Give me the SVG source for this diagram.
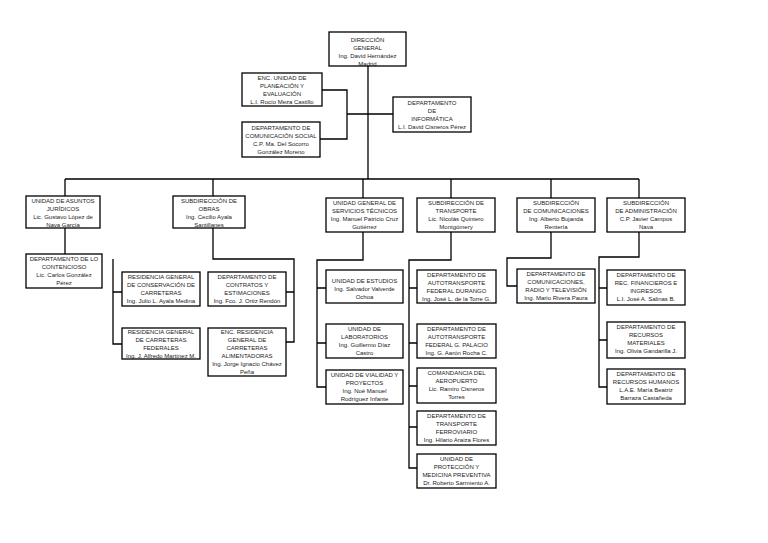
<svg xmlns="http://www.w3.org/2000/svg" width="768" height="543" viewBox="0 0 768 543">
<style>
rect{fill:#fff;stroke:#000;stroke-width:1.3}
text{font-family:"Liberation Sans",Arial,sans-serif;font-size:6px;fill:#222;text-anchor:middle}
#connectors path{fill:none;stroke:#000;stroke-width:1.3}
</style>
<rect x="0" y="0" width="768" height="543" style="stroke:none"/>
<g id="connectors">
<path d="M368 66V179M65 179H639M322 90H347V139H318M347 114H393M65 179V196M213 179V196M363 179V198M451 179V198M551 179V198M639 179V198"/>
<path d="M65 227V254M213 227V259H294V342H286M113 259V344H122M113 292H122M294 292H286"/>
<path d="M363 232V260H317V387H326M317 288H326M317 343H326"/>
<path d="M451 232V260H409V468H417M409 288H417M409 343H417M409 386H417M409 427H417"/>
<path d="M551 232V258H507V286H517"/>
<path d="M639 232V257H599V387H607M599 288H607M599 340H607"/>
</g>
<g id="dir"><rect x="329" y="32" width="77" height="34"/><text x="367.5" y="42">DIRECCIÓN</text><text x="367.5" y="50">GENERAL</text><text x="367.5" y="58">Ing. David Hernández</text><text x="367.5" y="66">Madrid</text></g>
<g id="plan"><rect x="242" y="73" width="80" height="33"/><text x="282" y="80">ENC. UNIDAD DE</text><text x="282" y="88">PLANEACIÓN Y</text><text x="282" y="96">EVALUACIÓN</text><text x="282" y="104">L.I. Rocío Meza Castillo</text></g>
<g id="com"><rect x="242" y="122" width="78" height="35"/><text x="281" y="130">DEPARTAMENTO DE</text><text x="281" y="138">COMUNICACIÓN SOCIAL</text><text x="281" y="146">C.P. Ma. Del Socorro</text><text x="281" y="154">González Moreno</text></g>
<g id="inf"><rect x="393" y="97" width="78" height="35"/><text x="432" y="105">DEPARTAMENTO</text><text x="432" y="113">DE</text><text x="432" y="121">INFORMÁTICA</text><text x="432" y="129">L.I. David Cisneros Pérez</text></g>
<g id="jur"><rect x="26" y="196" width="74" height="32"/><text x="63" y="203">UNIDAD DE ASUNTOS</text><text x="63" y="211">JURÍDICOS</text><text x="63" y="219">Lic. Gustavo López de</text><text x="63" y="227">Nava García</text></g>
<g id="cont"><rect x="26" y="254" width="76" height="34"/><text x="64" y="261">DEPARTAMENTO DE LO</text><text x="64" y="269">CONTENCIOSO</text><text x="64" y="277">Lic. Carlos González</text><text x="64" y="285">Pérez</text></g>
<g id="obras"><rect x="173" y="196" width="72" height="32"/><text x="209" y="203">SUBDIRECCIÓN DE</text><text x="209" y="211">OBRAS</text><text x="209" y="219">Ing. Cecilio Ayala</text><text x="209" y="227">Santillanes</text></g>
<g id="rcons"><rect x="122" y="272" width="78" height="34"/><text x="161" y="279">RESIDENCIA GENERAL</text><text x="161" y="287">DE CONSERVACIÓN DE</text><text x="161" y="295">CARRETERAS</text><text x="161" y="303">Ing. Julio L. Ayala Medina</text></g>
<g id="contr"><rect x="208" y="272" width="78" height="34"/><text x="247" y="279">DEPARTAMENTO DE</text><text x="247" y="287">CONTRATOS Y</text><text x="247" y="295">ESTIMACIONES</text><text x="247" y="303">Ing. Fco. J. Ortiz Rendón</text></g>
<g id="rfed"><rect x="122" y="328" width="78" height="31"/><text x="161" y="334">RESIDENCIA GENERAL</text><text x="161" y="342">DE CARRETERAS</text><text x="161" y="350">FEDERALES</text><text x="161" y="358">Ing. J. Alfredo Martínez M.</text></g>
<g id="ralim"><rect x="208" y="328" width="78" height="48"/><text x="247" y="334">ENC. RESIDENCIA</text><text x="247" y="342">GENERAL DE</text><text x="247" y="350">CARRETERAS</text><text x="247" y="358">ALIMENTADORAS</text><text x="247" y="366">Ing. Jorge Ignacio Chávez</text><text x="247" y="374">Peña</text></g>
<g id="serv"><rect x="326" y="198" width="77" height="34"/><text x="364.5" y="205">UNIDAD GENERAL DE</text><text x="364.5" y="213">SERVICIOS TÉCNICOS</text><text x="364.5" y="221">Ing. Manuel Patricio Cruz</text><text x="364.5" y="229">Gutiérrez</text></g>
<g id="est"><rect x="326" y="270" width="77" height="33"/><text x="364.5" y="283">UNIDAD DE ESTUDIOS</text><text x="364.5" y="291">Ing. Salvador Valverde</text><text x="364.5" y="299">Ochoa</text></g>
<g id="lab"><rect x="326" y="324" width="77" height="34"/><text x="364.5" y="331">UNIDAD DE</text><text x="364.5" y="339">LABORATORIOS</text><text x="364.5" y="347">Ing. Guillermo Díaz</text><text x="364.5" y="355">Castro</text></g>
<g id="vial"><rect x="326" y="370" width="77" height="34"/><text x="364.5" y="377">UNIDAD DE VIALIDAD Y</text><text x="364.5" y="385">PROYECTOS</text><text x="364.5" y="393">Ing. Noé Manuel</text><text x="364.5" y="401">Rodríguez Infante</text></g>
<g id="trans"><rect x="417" y="198" width="78" height="34"/><text x="456" y="205">SUBDIRECCIÓN DE</text><text x="456" y="213">TRANSPORTE</text><text x="456" y="221">Lic. Nicolás Quintero</text><text x="456" y="229">Montgómery</text></g>
<g id="dur"><rect x="417" y="270" width="79" height="33"/><text x="456.5" y="277">DEPARTAMENTO DE</text><text x="456.5" y="285">AUTOTRANSPORTE</text><text x="456.5" y="293">FEDERAL DURANGO</text><text x="456.5" y="301">Ing. José L. de la Torre G.</text></g>
<g id="pal"><rect x="417" y="324" width="79" height="34"/><text x="456.5" y="331">DEPARTAMENTO DE</text><text x="456.5" y="339">AUTOTRANSPORTE</text><text x="456.5" y="347">FEDERAL G. PALACIO</text><text x="456.5" y="355">Ing. G. Aarón Rocha C.</text></g>
<g id="aero"><rect x="417" y="368" width="79" height="35"/><text x="456.5" y="375">COMANDANCIA DEL</text><text x="456.5" y="383">AEROPUERTO</text><text x="456.5" y="391">Lic. Ramiro Cisneros</text><text x="456.5" y="399">Torres</text></g>
<g id="ferr"><rect x="417" y="411" width="79" height="34"/><text x="456.5" y="418">DEPARTAMENTO DE</text><text x="456.5" y="426">TRANSPORTE</text><text x="456.5" y="434">FERROVIARIO</text><text x="456.5" y="442">Ing. Hilario Araiza Flores</text></g>
<g id="prot"><rect x="417" y="454" width="79" height="34"/><text x="456.5" y="461">UNIDAD DE</text><text x="456.5" y="469">PROTECCIÓN Y</text><text x="456.5" y="477">MEDICINA PREVENTIVA</text><text x="456.5" y="485">Dr. Roberto Sarmiento A.</text></g>
<g id="comu"><rect x="517" y="198" width="78" height="34"/><text x="556" y="205">SUBDIRECCIÓN</text><text x="556" y="213">DE COMUNICACIONES</text><text x="556" y="221">Ing. Alberto Bujanda</text><text x="556" y="229">Rentería</text></g>
<g id="radio"><rect x="517" y="269" width="78" height="34"/><text x="556" y="276">DEPARTAMENTO DE</text><text x="556" y="284">COMUNICACIONES,</text><text x="556" y="292">RADIO Y TELEVISIÓN</text><text x="556" y="300">Ing. Mario Rivera Paura</text></g>
<g id="adm"><rect x="607" y="198" width="78" height="34"/><text x="646" y="205">SUBDIRECCIÓN</text><text x="646" y="213">DE ADMINISTRACIÓN</text><text x="646" y="221">C.P. Javier Campos</text><text x="646" y="229">Nava</text></g>
<g id="fin"><rect x="607" y="270" width="78" height="35"/><text x="646" y="277">DEPARTAMENTO DE</text><text x="646" y="285">REC. FINANCIEROS E</text><text x="646" y="293">INGRESOS</text><text x="646" y="301">L.I. José A. Salinas B.</text></g>
<g id="mat"><rect x="607" y="322" width="78" height="36"/><text x="646" y="329">DEPARTAMENTO DE</text><text x="646" y="337">RECURSOS</text><text x="646" y="345">MATERIALES</text><text x="646" y="353">Ing. Olivia Gandarilla J.</text></g>
<g id="hum"><rect x="607" y="369" width="78" height="35"/><text x="646" y="376">DEPARTAMENTO DE</text><text x="646" y="384">RECURSOS HUMANOS</text><text x="646" y="392">L.A.E. María Beatriz</text><text x="646" y="400">Barraza Castañeda</text></g>
</svg>
